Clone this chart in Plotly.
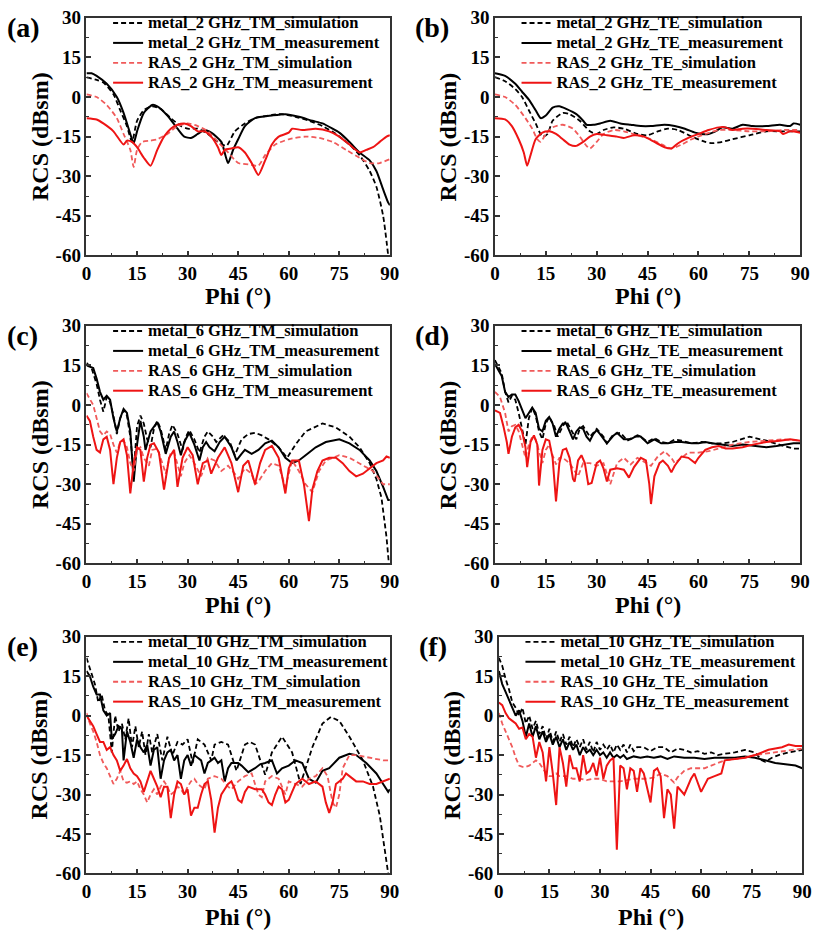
import plotly.graph_objects as go

W, H = 825, 946
FONT = "Liberation Serif"

# ---------------- data (Phi in degrees, RCS in dBsm) ----------------
# (a) 2 GHz TM
a_ms_x = [0,3,5,8,10,12,13.5,15,17,19.5,22,25,28,30,33,36,39,41.5,44,47,50,55,58,62,66,70,74,78,81,84,86,88,89.5]
a_ms_y = [7.4,6.5,5.5,1,-5,-11,-17,-9,-5,-3.5,-4.5,-8,-11,-12,-12,-14,-17,-18.5,-13,-10,-8,-6.8,-6.5,-7.5,-9,-11,-14,-18,-22,-28,-34,-45,-60]
a_mm_x = [0,1.5,3,6,9,11,13.5,14,15,17,19.5,21,24,27,29,31,33,35,37,40,42,43.5,45,47,50,55,59,63,67,70,73,75,78,81,84,86,88,89.5,90]
a_mm_y = [9,9,8,5,0,-6,-16,-17.5,-13,-6,-3,-3.5,-7,-12,-15,-15.5,-14,-12.5,-13.5,-17,-25,-20,-16,-11,-8,-7,-6.5,-7.5,-9,-10,-12,-13.5,-17,-21,-24,-28,-35,-40,-41]
a_rs_x = [0,3,6,9,11,13,14,15,16.5,19,21,24,27,30,33,36,39,42,45,48,51,53,56,60,65,69,73,77,81,84,87,90]
a_rs_y = [1,0,-3,-8,-14,-20,-26.5,-20,-17,-16.5,-16,-14,-11,-10,-11,-13,-17,-21,-25,-25.5,-26,-22,-18,-16,-15,-15.5,-17,-20,-23,-25,-25,-23.5]
a_rm_x = [0,3,5,8,11,12,13.5,15,17,19,21,23,25,27,29,31,33,35,37,39,40,41,43,45,47,49,51,53,55,57,60,61,64,68,72,75,78,81,83,85,87,89,90]
a_rm_y = [-8,-8.5,-10,-13,-18,-16.5,-17,-19,-23,-26,-20,-15,-12,-10.5,-10,-11,-13,-13,-15,-19,-22,-20,-19.5,-19,-21,-25,-29.5,-24,-18,-15,-13.5,-12,-12.5,-12,-13,-15,-18,-21,-20,-19,-17,-15,-14.5]

# (b) 2 GHz TE
b_ms_x = [0,3,6,8,10,12,14,15.5,17,20,22,25,28,30,32,35,38,42,45,48,51,54,58,62,64,67,70,75,80,85,90]
b_ms_y = [7.5,6,3,0,-5,-10,-15,-14,-9,-6,-6.5,-9,-13,-14,-12.5,-11.5,-12,-14,-14.5,-13,-12,-12.5,-15,-17,-17.5,-17,-16,-14.5,-13,-13,-13]
b_mm_x = [0,3,6,8,10,12,13.5,15,17,19,21,24,26,27,29,31,34,37,40,43,46,50,53,56,59,61,63,65,67,70,73,76,80,84,87,88,90]
b_mm_y = [9,8,5,2,-1,-5,-8,-7,-4,-3.5,-4.5,-6.5,-9,-10.5,-10.5,-10,-9,-10,-10.5,-11,-11,-10.5,-11,-12,-13.5,-14,-14,-13,-11.5,-12,-10.5,-11,-11,-10.5,-11,-10,-10.5]
b_rs_x = [0,3,6,9,11,12.5,13.5,15,17,20,23,25,27,28,30,32,35,38,42,46,50,52,55,58,62,66,70,75,80,85,90]
b_rs_y = [1,0,-3,-8,-12,-16,-17,-14,-11.5,-10.5,-12,-15,-18.5,-19.5,-17,-14,-12.5,-13,-14.5,-16,-18.5,-19.5,-18,-16,-14,-12.5,-12.5,-13,-13,-12.5,-12.5]
b_rm_x = [0,3,5,7,8.5,9.5,10.5,12,14,16,18,20,22,24,26,28,30,33,36,38,41,44,47,50,52,54,57,60,63,66,68,70,73,76,80,84,85,87,90]
b_rm_y = [-8,-8.5,-11,-16,-21,-26,-22,-16,-13.5,-13,-14,-16,-18,-18.5,-17,-15,-14,-14.5,-15,-15.5,-14.5,-15,-17,-19,-19.5,-17.5,-15.5,-14,-12.5,-11.5,-11.5,-12.5,-12,-12,-12.5,-13,-14,-13,-13.5]

# (c) 6 GHz TM
c_ms_x = [0,1.5,3,4,5,6,7,8,9,10,11,12,13,14,15,16,17,18,19,20,21,22,23.5,24.5,25.5,27,28.5,29.5,30.5,32,33.5,35,36,37.5,38.5,40.5,42.5,44,46,48,50,52,54,57,59.5,62,65,70,74,78,81,84,86,87.5,89,89.7]
c_ms_y = [16,14,8,2,-2.5,3,1,-4,-11,-5,-2,-4,-12,-25,-8,-4,-7,-13,-16,-9,-6,-9,-17,-11,-7.5,-11,-17,-12,-9.5,-13,-18,-12,-10,-12,-14,-11.5,-14,-19,-13,-11,-10.5,-11.5,-13,-16,-20,-15,-10,-7,-8.5,-12,-16,-22,-28,-35,-50,-60]
c_mm_x = [0,1,2,3,4,5,6,7,8,9,10,11,12,13,14,15,16,17,17.5,19,21,22,23.5,25,26,27,28,29,30.5,32,33.5,34.5,35.5,36.5,38,39.5,41,43,44.5,46,47,49,51,53,55,57,59,61,62,63,65,68,71,75,78,81,84,86,88,89.5,90]
c_mm_y = [15,14.5,14,10,5,2,3.5,2,-5,-10,-5,-1.5,-3,-10,-29,-15,-6,-12,-17,-10,-6.5,-10,-18.5,-12,-10,-14,-19,-14,-10.5,-15,-21,-16,-14,-16,-17.5,-14,-12,-16,-21,-18.5,-17,-18.5,-17,-14.5,-13.5,-16,-20,-22,-21.5,-21,-19,-16,-14,-13,-14.5,-17,-21,-25,-31,-36,-36]
c_rs_x = [0,2,3,4,5,6,7,8,9,10,11,12,13,14,15,16,17,18.5,19.5,21,22.5,23.5,25,26,28,29,30.5,32,34,36,38,40,42,44,45,47,49,50,51,53,55,57,59,61,63,65,67,69,71,75,78,82,85,88,90]
c_rs_y = [4.5,0,-5,-10,-11.5,-10,-11,-15,-18,-14,-13.5,-16,-22,-25,-17,-16,-20,-23,-17,-16.5,-22,-26,-18,-18,-27,-22,-19,-22,-27,-20,-21,-25,-23,-26,-28,-24,-26,-30,-29,-25,-22,-23,-31,-21,-25,-30,-33,-25,-21,-19,-20,-23,-25,-30,-30]
c_rm_x = [0,1,2,3,4,5,6,7,8,9,10,11,12,13,14,15,16,17,18,19,20,21.5,23,24.5,26,27,28.5,30,31.5,33,34.5,36,37,39,41,43,45,46.5,48,50,51.5,53,55,57,59,60,61,63,64.5,66,67,68.5,70,72,74,76,78,80,82,84,86,88,89,90]
c_rm_y = [-4,-6,-12,-17,-18,-13,-12,-17,-30,-20,-14,-13,-19,-33.5,-22,-16,-17,-29,-20,-15,-14.5,-18,-32,-20,-17,-31,-20,-16,-19,-30,-22,-21,-26,-20,-16,-22,-33,-23,-21,-30,-22,-17,-15.5,-20,-33.5,-24,-21,-21,-30,-44,-32,-25,-21,-20,-20,-22,-25,-27,-26,-24,-22,-21,-19.5,-20]

# (d) 6 GHz TE
d_ms_x = [0,2,3,4,5,6,7,8.5,9,10,11,12,13,14,15,16,17.5,18.5,20,21,23,24,25,26,28,30,32,33,35,37,39,41,43,45,47,49,51,53,55,58,61,64,67,70,75,80,85,88,90]
d_ms_y = [17,12,5,1,3.5,2,-3,-12,-15,-5,-1,-4,-10,-13,-7,-4.5,-8,-12,-8,-6,-11,-13,-9,-8,-12,-9,-12,-14.5,-11,-10.5,-13.5,-12,-12,-14,-12.5,-14,-14.5,-13,-13.5,-14.5,-14,-14.5,-14.5,-14,-12,-13.5,-15.5,-16.5,-16.5]
d_mm_x = [0,2,3,4,5,6,7,8,9,10,11,12,13,14,15,16,17,18,19,20,21,22,23,24,25,26,27,28,29,30,31,33,35,36,38,40,42,43,45,47,49,51,53,55,58,60,62,64,67,70,73,76,80,83,86,88,90]
d_mm_y = [15.5,11,5,3,4,4,1.5,-2,-5,-3,-1,-3,-9,-10,-6,-4.5,-7,-12,-9,-7,-7,-10,-13,-10,-8.5,-9,-12,-13.5,-11,-9.5,-11,-14.5,-11.5,-10.5,-13,-13,-11.5,-12,-14.5,-13,-14.5,-14.5,-14,-14,-14.5,-14.5,-14,-14.5,-15,-15.5,-15,-15.5,-16,-15.5,-15,-14.5,-14.5]
d_rs_x = [0,1.5,3,4,5,6,7,8,9,10,11,12,13,14,15,16,17,18,19,20,22,23.5,24.5,26,28,30,32,34,35,36,38,40,42,44,46,48,50,52,53,55,57,60,63,66,70,75,80,85,90]
d_rs_y = [5,3,-3,-10,-8,-7.5,-10,-15,-20,-15,-12,-13,-18,-22,-17,-15,-19,-22.5,-20,-20,-22,-25,-27,-22,-22,-23,-22,-30,-26,-22,-20,-22.5,-20,-21.5,-23,-19.5,-17.5,-20,-22,-20,-18,-18,-17.5,-16.5,-15,-14,-13.5,-13,-13.5]
d_rm_x = [0,1.5,2.5,3.5,4,5,6,7,8,9,9.5,10.5,11.5,12.5,13,14,15,16,17,18,19,20,21,22,23,23.5,24.5,25.5,26.5,27.5,28.5,30,31,32,33,34,36,38,39.5,41,43,44.5,45.5,46,47,48.5,49.5,51,52,53,55,57,59,60,62,64,66,68,70,73,76,80,84,87,90]
d_rm_y = [-2,-3,-8,-14,-18.5,-12,-8.5,-7.5,-10,-16,-23.5,-14,-11.5,-15,-30.5,-17,-13,-13.5,-20,-36.5,-22,-17,-16.5,-20,-28,-29,-21,-19,-22,-30,-29.5,-22,-21,-24,-29,-24.5,-24,-24.5,-27.5,-23.5,-20,-21,-30,-37.5,-27,-22,-21,-23,-25.5,-23,-19.5,-20,-22,-20,-17,-16,-15.5,-16.5,-16.5,-16,-15,-14,-13.5,-13,-13.5]

# (e) 10 GHz TM
e_ms_x = [0,1.5,2.5,3.5,4.5,5.5,6.5,7.5,8.5,9.5,10.5,11.5,12.5,13.5,14.5,15.5,16.5,17.5,18.5,19.5,21,22.5,24,25.5,27,28.5,30,31.5,33,35,37,38,40,42,44.5,47,48.5,50,53,55,58,61,63.5,65.5,67,70,72.5,75,78,82,85,87,89,89.5]
e_ms_y = [22,16,12,5,8,2,0,-14,0,-6,-3,-9,-1,-12,-4,-12,-6,-15,-7,-14,-7,-17,-8,-15,-10,-11,-9,-18,-9,-11,-17,-11,-10,-11,-21,-11,-10,-11,-22.5,-14,-8,-14,-26,-18,-12,-3,-0.5,-2,-8,-17,-27,-38,-55,-60]
e_mm_x = [0,1,2,3,4,5,6,7,7.5,8.5,9.5,10.5,11,12,13,14,15,16,17,18,19,20,21,22,23,24,25,26,27,28,29,30,31,32,33,34,35,36,37,38,39,40,41,42,43,45,46,48,50,51.5,53,55,56.5,58,60,62,64,65,66,68,70,72,75,78,80,83,86,88,89.5,90]
e_mm_y = [17,15,11,8,8,2,0,1,-9,-7,-4,-5,-17,-6,-10,-16,-9,-12,-14,-11,-19,-13,-12,-24,-17,-14,-13,-17,-15,-24,-17,-15,-19,-15,-16,-17,-22,-18,-17,-16,-18,-17,-25,-20,-18,-18,-19,-21.5,-20,-18.5,-18,-17,-22,-20,-19,-17,-18,-21,-24,-25.5,-21,-20,-16,-14.5,-15,-18,-22,-26,-29,-28]
e_rs_x = [0,1,2,3,4,5,6,7,8,9,10,11,12,13,14,15,16,17,18,19,20,21,22,23,24,25,26,27,28,29,30,31,32,33,35,36,38,40,42,43,45,47,49,51,52,53,55,57,59,60,62,64,66,68,70,71.5,73,74,75,76,78,80,82,84,86,88,90]
e_rs_y = [1,-3,-6,-10,-15,-18,-20,-23,-26,-24,-21,-25,-25.5,-25,-26,-25,-28,-30,-33,-30,-28,-30,-27,-25,-27,-30,-29,-27,-28,-30,-27,-25,-24,-26,-28,-24,-23,-24,-27,-28,-25,-23,-22,-30,-31,-25,-23,-24,-30,-25,-26,-27,-24,-23,-20,-23,-33,-35,-30,-20,-15,-15,-15.5,-16,-16.5,-17,-17]
e_rm_x = [0,1,2,3,4,5,6,7,8,9,10,11,12,13,14,15,16,17,18,19,20,21,22,23,24,25,26,27,28,29,30,31,32,33,34,35,36,37,38,39,40,41,42,43,44,45,46,47,48,50,52,53,54,55,56,57,58,59,60,61,62,64,66,68,70,71,72,73,74,76,77,78,80,82,84,86,88,90]
e_rm_y = [0,-2,-4,-7,-10,-10,-13,-12,-15,-17,-21,-19,-16.5,-20,-22,-23,-25,-29,-25,-21,-24,-27,-31,-27,-27,-39,-30,-25,-26,-30,-28,-38,-35,-35,-30,-26,-25,-32,-44.5,-35,-30,-28,-26,-25,-28,-32,-33,-29,-27,-28,-28,-30,-33,-34,-30,-27,-28,-33,-32,-29,-26,-24,-26,-25,-27,-33,-37,-33,-26,-24,-22,-23,-25,-25,-26,-26,-25,-24]

# (f) 10 GHz TE
f_ms_x = [0,1,2,3,4,5,6,7,8,9,10,11,12,13,14,15,16,17,18,19,20,21,22,23,24,25,26,27,28,29,30,31,32,33,34,35,36,37,38,39,40,41,43,45,47,49,51,53,55,57,59,61,63,65,67,70,73,76,78,79,81,83,86,88,90]
f_ms_y = [22,19,14,10,5,3,0,3,-3,0,-5,-2,-7,-4,-9,-5,-10,-6,-10,-7,-11,-8,-12,-9,-12,-9,-13,-10,-14,-10,-13,-11,-13,-11,-14,-11,-13,-11,-14,-11,-13.5,-12,-12,-13.5,-12,-12,-14,-12.5,-13,-14,-13.5,-14.5,-14,-15,-14.5,-14,-13,-14,-17,-17.5,-16,-15,-14,-13.5,-13]
f_mm_x = [0,1,2,3,4,5,6,7,8,9,10,11,12,13,14,15,16,17,18,19,20,21,22,23,24,25,26,27,28,29,30,31,32,33,34,35,36,37,38,40,42,44,46,48,50,52,55,58,61,64,67,70,73,76,79,82,85,88,90]
f_mm_y = [17,12,9,6,3,0,2,-2,-8,-3,-8,-4,-9,-6,-10,-7,-11,-8,-12,-9,-13,-10,-13,-11,-15,-12,-14,-13,-15,-13,-15,-14,-16,-14,-16,-15,-16,-15,-16.5,-15.5,-16,-15.5,-16,-15.5,-16.5,-15.5,-16,-16,-16.5,-16,-16,-16,-15.5,-16,-17,-18,-18.5,-19,-20]
f_rs_x = [0,1,2,3,4,5,6,7,8,9,10,11,12,13,14,15,16,17,18,20,22,24,26,28,30,32,34,36,38,40,42,44,46,48,50,52,53,55,57,59,61,63,65,67,70,73,76,79,82,85,88,90]
f_rs_y = [1,-3,-6,-9,-12,-16,-19,-19.5,-19.5,-19,-18,-17,-18,-20,-22,-23,-23,-22,-23,-23,-24,-24,-24.5,-24,-24,-25,-25,-25,-24.5,-24,-24,-24,-23.5,-22,-23,-25.5,-23.5,-21,-20,-20,-20,-19,-18,-17,-16.5,-16,-15,-14.5,-14,-13.5,-13,-12.5]
f_rm_x = [0,1,2,3,4,5,6,7,8,9,10,11,12,13,14,15,16,17,18,19,20,21,22,23,24,25,26,27,28,29,30,31,32,33,34,35,36,37,38,39,40,41,42,43,45,46,47,48,49,50,51,52,53,55,57,58,60,62,64,66,67,70,73,76,78,80,82,84,86,88,90]
f_rm_y = [5,4,1,-1,-2,-3,-5,-4.5,-9,-7,-8,-16,-10,-14,-25,-12,-22,-34,-12,-18,-27,-15,-20,-20,-25,-15,-22,-21,-18,-23,-16,-24,-19,-17,-16,-51,-19,-20,-28,-20,-21,-29,-20,-22,-33,-21,-20,-23,-39,-28,-30,-43,-27,-30,-24,-22,-29,-24,-23,-22,-17,-16.5,-16,-15,-14,-13,-12.5,-12,-11,-11.5,-11.5]

panels = ["a", "b", "c", "d", "e", "f"]
freq = {"a": "2", "b": "2", "c": "6", "d": "6", "e": "10", "f": "10"}
pol = {"a": "TM", "b": "TE", "c": "TM", "d": "TE", "e": "TM", "f": "TE"}
x_ticks = [0, 15, 30, 45, 60, 75, 90]
y_ticks = [-60, -45, -30, -15, 0, 15, 30]

# plot-area boxes in pixels (left, right, top, bottom) and x-title offset
box = {
    "a": (83, 392, 8, 251), "b": (499, 810, 8, 251),
    "c": (83, 392, 323, 566), "d": (499, 810, 323, 566),
    "e": (83, 392, 641, 883), "f": (503, 812, 641, 883),
}
xtitle_off = {"a": 42, "b": 42, "c": 43, "d": 43, "e": 45, "f": 45}

data = globals()
fig = go.Figure()
RED = "#ee1414"
RED_D = "#f05a5a"

for i, p in enumerate(panels):
    n = i + 1
    xa = "x" if n == 1 else f"x{n}"
    ya = "y" if n == 1 else f"y{n}"
    lg = "legend" if n == 1 else f"legend{n}"
    shape = "spline" if p in ("a", "b") else "linear"
    series = [
        ("ms", f"metal_{freq[p]} GHz_{pol[p]}_simulation", "#000000", "5px,3px", 1.8),
        ("mm", f"metal_{freq[p]} GHz_{pol[p]}_measurement", "#000000", "solid", 2.0),
        ("rs", f"RAS_{freq[p]} GHz_{pol[p]}_simulation", RED_D, "5px,3px", 1.8),
        ("rm", f"RAS_{freq[p]} GHz_{pol[p]}_measurement", RED, "solid", 2.0),
    ]
    for key, name, col, dash, w in series:
        fig.add_trace(go.Scatter(
            x=data[f"{p}_{key}_x"], y=data[f"{p}_{key}_y"], mode="lines",
            name=f"<span style='font-size:16.5px'><b>{name}</b></span>",
            line=dict(color=col, dash=dash, width=w, shape=shape, smoothing=0.6),
            xaxis=xa, yaxis=ya, legend=lg, cliponaxis=True))

    l, r, t, b = box[p]
    axis_common = dict(showline=True, linecolor="#333333", linewidth=1.5, mirror=True,
                       ticks="inside", ticklen=5, tickwidth=1.5, tickcolor="#333333",
                       showgrid=False, zeroline=False,
                       tickfont=dict(family=FONT, size=19, color="#000000"),
                       minor=dict(ticks="inside", ticklen=3, tickwidth=1.2, tickcolor="#333333"))
    xkey = "xaxis" if n == 1 else f"xaxis{n}"
    ykey = "yaxis" if n == 1 else f"yaxis{n}"
    fig.update_layout(**{
        xkey: dict(axis_common, domain=[l / W, r / W], range=[0, 90], tickvals=x_ticks,
                   ticktext=[f"<b>{v}</b>" for v in x_ticks],
                   minor=dict(axis_common["minor"], tickvals=[7.5, 22.5, 37.5, 52.5, 67.5, 82.5]),
                   anchor=ya),
        ykey: dict(axis_common, domain=[1 - b / H, 1 - t / H], range=[-60, 30], tickvals=y_ticks,
                   ticktext=[f"<b>{v}</b>" for v in y_ticks],
                   minor=dict(axis_common["minor"], tickvals=[-52.5, -37.5, -22.5, -7.5, 7.5, 22.5]),
                   anchor=xa),
        lg: dict(x=(l + 22) / W, y=1 - (t - 10) / H, xanchor="left", yanchor="top",
                 bgcolor="rgba(0,0,0,0)", borderwidth=0, tracegroupgap=0,
                 font=dict(family=FONT, size=13, color="#000"), itemwidth=30),
    })
    # axis titles
    fig.add_annotation(text="<b>Phi (°)</b>", x=(l + r) / 2 / W, y=1 - (b + xtitle_off[p]) / H,
                       xref="paper", yref="paper", xanchor="center", yanchor="middle",
                       showarrow=False, font=dict(family=FONT, size=24, color="#000"))
    fig.add_annotation(text="<b>RCS (dBsm)</b>", x=(l - 48) / W, y=1 - (t + b) / 2 / H,
                       xref="paper", yref="paper", xanchor="center", yanchor="middle",
                       textangle=-90, showarrow=False, font=dict(family=FONT, size=24, color="#000"))
    # panel label
    fig.add_annotation(text=f"<b>({p})</b>", x=(l - 83) / W, y=1 - (t + 10) / H,
                       xref="paper", yref="paper", xanchor="left", yanchor="middle",
                       showarrow=False, font=dict(family=FONT, size=28, color="#000"))

fig.update_layout(width=W, height=H, margin=dict(l=0, r=0, t=0, b=0),
                  paper_bgcolor="white", plot_bgcolor="white", showlegend=True)
fig.write_html("out.html")
